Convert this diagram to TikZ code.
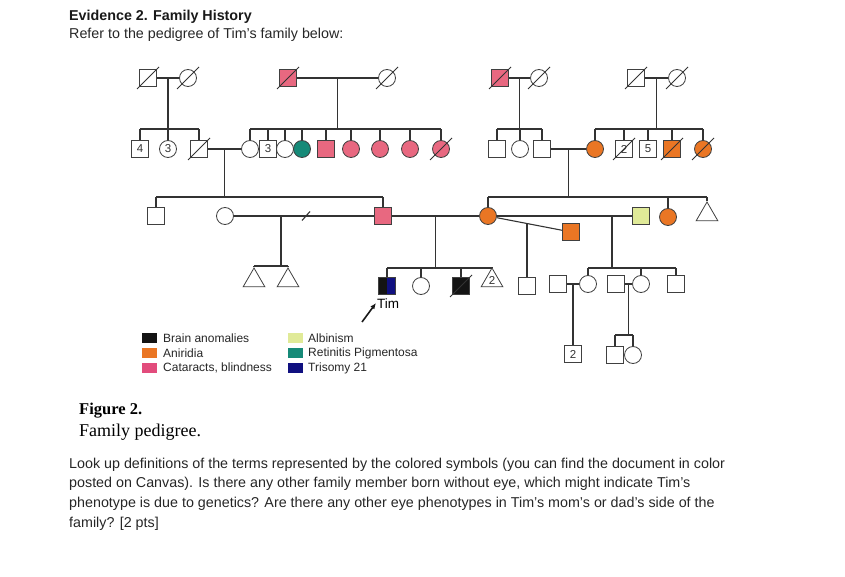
\documentclass[tikz,border=0pt]{standalone}
\usepackage{fontspec}
\setmainfont{Liberation Sans}
\newfontfamily\capfont{Liberation Serif}
\usetikzlibrary{positioning,calc,shapes.geometric,arrows.meta}
\definecolor{pinkc}{RGB}{232,104,128}
\definecolor{keypinkc}{RGB}{226,76,124}
\definecolor{orangec}{RGB}{234,118,36}
\definecolor{tealc}{RGB}{22,138,120}
\definecolor{limec}{RGB}{224,234,152}
\definecolor{navyc}{RGB}{16,16,128}
\tikzset{
  male/.style    = {draw=black!75, rectangle, minimum size=17pt, inner sep=0pt, line width=0.8pt, font=\fontsize{11.5}{11.5}\selectfont, text=black!80},
  female/.style  = {draw=black!75, circle, minimum size=17pt, inner sep=0pt, line width=0.8pt, font=\fontsize{11.5}{11.5}\selectfont, text=black!80},
  unk/.style     = {draw=black!75, regular polygon, regular polygon sides=3, minimum size=25pt, inner sep=0pt, line width=0.8pt, font=\fontsize{11.5}{11.5}\selectfont, text=black!80},
  rel/.style     = {draw=black!80, line width=1.1pt},
  key/.style     = {minimum width=15pt, minimum height=10pt, inner sep=0pt},
  keytxt/.style  = {font=\fontsize{12}{12}\selectfont, anchor=west, inner sep=0pt, text=black!85},
  head/.style    = {font=\bfseries\fontsize{14.3}{17}\selectfont, anchor=base west, inner sep=0pt, text=black!90},
  body/.style    = {font=\fontsize{14.3}{17}\selectfont, anchor=base west, inner sep=0pt, text=black!85},
  pointer/.style = {-{Latex[length=6pt,width=5pt]}, line width=1.6pt, draw=black!90},
}
\newcommand\deceased[1]{\draw[black!80, line width=0.8pt] ([shift={(-11pt,-11pt)}]#1.center) -- ([shift={(11pt,11pt)}]#1.center);}

\begin{document}
\begin{tikzpicture}[x=1pt,y=-1pt]
  \useasboundingbox (0,0) rectangle (845,577);

  % heading
  \node[head] (title) at (69,21) {Evidence 2. Family History};
  \node[body] (intro) at (69,39) {Refer to the pedigree of Tim’s family below:};

  % generation I
  \node[male] (iA) at (148,78) {};
  \node[female] (iB) at (188,78) {};
  \node[male, fill=pinkc] (iC) at (288,78) {};
  \node[female] (iD) at (387,78) {};
  \node[male, fill=pinkc] (iE) at (500,78) {};
  \node[female] (iF) at (539,78) {};
  \node[male] (iG) at (636,78) {};
  \node[female] (iH) at (677,78) {};

  % generation II
  \node[male] (a4) at (140,149) {4};
  \node[female] (a3) at (168,149) {3};
  \node[male] (aD) at (199,149) {};
  \node[female] (b1) at (250,149) {};
  \node[male] (b2) at (268,149) {3};
  \node[female] (b3) at (285,149) {};
  \node[female, fill=tealc] (b4) at (302,149) {};
  \node[male, fill=pinkc] (b5) at (326,149) {};
  \foreach \n/\x in {b6/351, b7/380, b8/410, b9/441}
    \node[female, fill=pinkc] (\n) at (\x,149) {};
  \node[male] (c1) at (497,149) {};
  \node[female] (c2) at (520,149) {};
  \node[male] (c3) at (542,149) {};
  \node[female, fill=orangec] (d1) at (595,149) {};
  \node[male] (d2) at (624,149) {2};
  \node[male] (d3) at (648,149) {5};
  \node[male, fill=orangec] (d4) at (672,149) {};
  \node[female, fill=orangec] (d5) at (703,149) {};

  % generation III
  \node[male] (e1) at (156,216) {};
  \node[female] (e2) at (225,216) {};
  \node[male, fill=pinkc] (e3) at (383,216) {};
  \node[female, fill=orangec] (e4) at (488,216) {};
  \node[male, fill=orangec] (e5) at (571,232) {};
  \node[male, fill=limec] (e6) at (641,216) {};
  \node[female, fill=orangec] (e7) at (668,217) {};
  \node[unk] (e8) at (707,214.5) {};
  \node[unk] (t1) at (254,280.5) {};
  \node[unk] (t2) at (288,280.5) {};

  % generation IV
  \node[male, path picture={
      \fill[black!92] (path picture bounding box.south west) rectangle (path picture bounding box.north);
      \fill[navyc] (path picture bounding box.south) rectangle (path picture bounding box.north east);}] (tim) at (387,286) {};
  \node[female] (f2) at (421,286) {};
  \node[male, fill=black!92] (f3) at (461,286) {};
  \node[unk] (f4) at (492,280.5) {2};
  \node[male] (f5) at (527,286) {};
  \node[male] (g1) at (558,284) {};
  \node[female] (g2) at (588,284) {};
  \node[male] (g3) at (616,284) {};
  \node[female] (g4) at (641,284) {};
  \node[male] (g5) at (676,284) {};

  % generation V
  \node[male] (h1) at (573,354) {2};
  \node[male] (h2) at (615,355) {};
  \node[female] (h3) at (633,355) {};

  % matings
  \foreach \p/\q in {iA/iB, iC/iD, iE/iF, iG/iH, aD/b1, c3/d1, e2/e3, e3/e4, e4/e5, e4/e6, g1/g2, g3/g4}
    \draw[rel] (\p) -- (\q);
  \coordinate (brk) at (306,216);
  \draw[rel] ([shift={(-4pt,-4.5pt)}]brk) -- ([shift={(4pt,4.5pt)}]brk);

  % lines of descent
  \coordinate (mA) at ($(iA)!.5!(iB)$);
  \coordinate (mB) at ($(iC)!.5!(iD)$);
  \coordinate (mC) at ($(iE)!.5!(iF)$);
  \coordinate (mD) at ($(iG)!.5!(iH)$);
  \coordinate (mE) at ($(aD)!.5!(b1)$);
  \coordinate (mF) at ($(c3)!.5!(d1)$);
  \coordinate (mG) at (281,216);
  \coordinate (mH) at ($(e3)!.5!(e4)$);
  \coordinate (mI) at ($(e4)!.47!(e5)$);
  \coordinate (mJ) at (612,216);
  \coordinate (mK) at ($(g1)!.5!(g2)$);
  \coordinate (mL) at ($(g3)!.5!(g4)$);

  \foreach \m/\y/\first/\last/\kids in {%
    mA/129/a4/aD/{a4,a3,aD},
    mB/129/b1/b9/{b1,b2,b3,b4,b5,b6,b7,b8,b9},
    mC/129/c1/c3/{c1,c2,c3},
    mD/129/d1/d5/{d1,d2,d3,d4,d5},
    mE/197/e1/e3/{e1,e3},
    mF/197/e4/e8/{e4,e7,e8},
    mG/266/t1/t2/{t1,t2},
    mH/268/tim/f4/{tim,f2,f3,f4},
    mJ/268/g2/g5/{g2,g4,g5},
    mL/335/h2/h3/{h2,h3}}
  {
    \draw[rel] (\m) -- (\m |- 0,\y);
    \draw[rel] (\first.north |- 0,\y) -- (\last.north |- 0,\y);
    \foreach \k in \kids
      \draw[rel] (\k.north) -- (\k.north |- 0,\y);
  }
  \draw[rel] (mI) -- (mI |- f5.north);
  \draw[rel] (mK) -- (mK |- h1.north);

  % deceased
  \foreach \n in {iA,iB,iC,iD,iE,iF,iG,iH,aD,b9,d2,d4,d5,f3}
    \deceased{\n};

  % proband
  \node[font=\fontsize{13.5}{14}\selectfont, anchor=west, inner sep=0pt] (timlbl) at (377,304) {Tim};
  \coordinate (tail) at (362,322);
  \draw[pointer] (tail) -- ([shift={(-1pt,1pt)}]timlbl.west);

  % key
  \foreach \c/\t/\y [count=\i] in {black!92/{Brain anomalies}/338, orangec/Aniridia/353, keypinkc/{Cataracts, blindness}/368} {
    \node[key, fill=\c] (key\i) at (149.5,\y) {};
    \node[keytxt] (keyt\i) at (163,\y) {\t};
  }
  \foreach \c/\t/\y [count=\i] in {limec/Albinism/338, tealc/{Retinitis Pigmentosa}/353, navyc/{Trisomy 21}/368} {
    \node[key, fill=\c] (keyr\i) at (295.5,\y) {};
    \node[keytxt] (keyrt\i) at (308,\y) {\t};
  }

  % caption
  \node[anchor=base west, inner sep=0pt, font=\capfont\bfseries\fontsize{16.5}{18}\selectfont] (fig) at (79,414) {Figure 2.};
  \node[anchor=base west, inner sep=0pt, font=\capfont\fontsize{18}{20}\selectfont] (figt) at (79,436) {Family pedigree.};

  % question
  \foreach \t [count=\i] in {%
    {Look up definitions of the terms represented by the colored symbols (you can find the document in color},
    {posted on Canvas). Is there any other family member born without eye, which might indicate Tim’s},
    {phenotype is due to genetics? Are there any other eye phenotypes in Tim’s mom’s or dad’s side of the},
    {family? [2 pts]}}
    \node[body] (q\i) at (69,{448.3+19.7*\i}) {\t};
\end{tikzpicture}
\end{document}
